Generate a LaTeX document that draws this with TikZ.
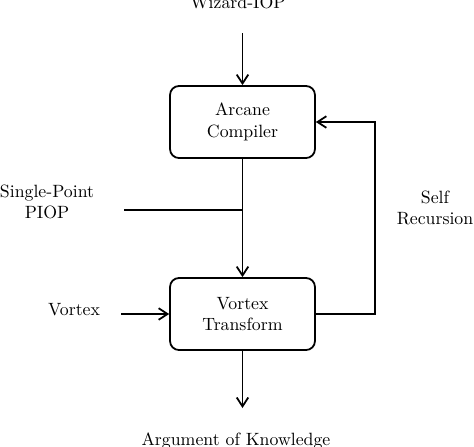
\documentclass[tikz,border=0pt]{standalone}
\usetikzlibrary{arrows.meta}
\begin{document}
\begin{tikzpicture}[x=0.5625pt,y=-0.5625pt, line width=1pt,
 blk/.style={draw, rounded corners=5pt, minimum width=81.5pt, minimum height=40.5pt, align=center, inner sep=0pt},
 lbl/.style={align=center, inner sep=0pt},
 arr/.style={-{Straight Barb[length=5pt,width=6.5pt]}}]
\useasboundingbox (0,0) rectangle (474,446);
\node[blk] (arc) at (242.5,122) {Arcane\\Compiler};
\node[blk] (vtx) at (242.5,314) {Vortex\\Transform};
\node[lbl] (wiz) at (238,2) {Wizard-IOP};
\node[lbl] (sp) at (47,202) {Single-Point\\PIOP};
\node[lbl] (vx) at (74,310) {Vortex};
\node[lbl] (self) at (435,208) {Self\\Recursion};
\node[lbl] (aok) at (236,441) {Argument of Knowledge};
\coordinate (wizend) at (242.5,33);
\coordinate (spend) at (124,210);
\coordinate (vend) at (121,314);
\coordinate (fb) at (375,0);
\coordinate (aokend) at (242.5,408);
\draw[arr] (wizend) -- (arc.north);
\draw[arr] (arc.south) -- (vtx.north);
\draw (spend) -- (spend -| arc.south);
\draw[arr] (vend) -- (vtx.west);
\draw[arr] (vtx.east) -- (vtx.east -| fb) -- (arc.east -| fb) -- (arc.east);
\draw[arr] (vtx.south) -- (aokend);
\end{tikzpicture}
\end{document}
